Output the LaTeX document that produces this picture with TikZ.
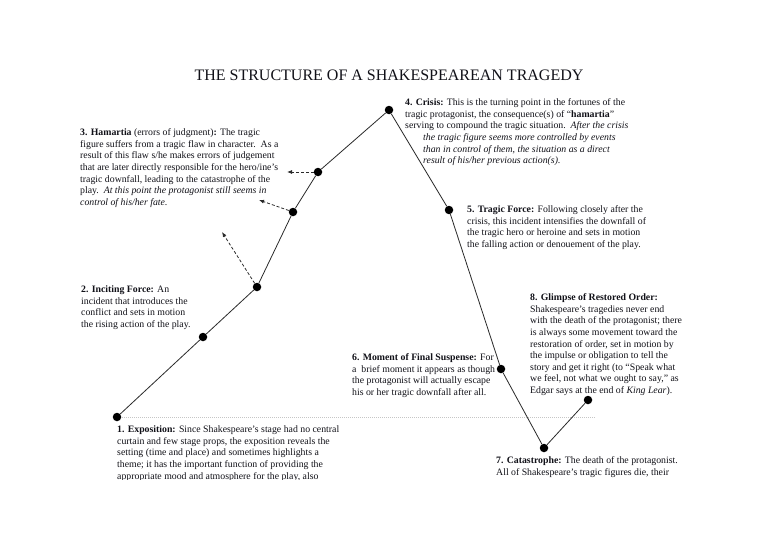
\documentclass[tikz,border=0pt]{standalone}
\usepackage{fontspec}
\setmainfont{Liberation Serif}
\usetikzlibrary{arrows.meta}
\definecolor{ink}{HTML}{111118}
\definecolor{linec}{HTML}{2A2A2A}
\begin{document}
\begin{tikzpicture}[x=1pt,y=-1pt,
  txt/.style={anchor=north west,inner sep=0pt,align=left,text=ink,font=\fontsize{9.8}{11.6}\selectfont},
  dot/.style={circle,fill=black,inner sep=0pt,minimum size=8.5pt},
  plot/.style={draw=linec,line width=0.8pt},
  hint/.style={draw=linec,line width=0.8pt,dash pattern=on 3pt off 2pt,-{Latex[length=5pt,width=4pt]}},
  guide/.style={draw=gray!45,line width=0.6pt,dash pattern=on 1pt off 1pt}]
\useasboundingbox[fill=white] (0,0) rectangle (768,543);

% title
\node[anchor=base,inner sep=0pt,text=ink,font=\fontsize{16}{19}\selectfont] (title) at (389,80.5) {THE STRUCTURE OF A SHAKESPEAREAN TRAGEDY};

% faint guide line
\coordinate (g1) at (120,417);
\coordinate (g2) at (596,417);
\draw[guide] (g1) -- (g2);

% plot points
\node[dot] (p1) at (117,417) {};
\node[dot] (p2) at (203,337) {};
\node[dot] (p3) at (257,287) {};
\node[dot] (p4) at (293,212) {};
\node[dot] (p5) at (318,172) {};
\node[dot] (p6) at (389,110) {};
\node[dot] (p7) at (449,210) {};
\node[dot] (p8) at (501,369) {};
\node[dot] (p9) at (544,448) {};
\node[dot] (p10) at (588,400) {};
\draw[plot] (p1) -- (p2) -- (p3) -- (p4) -- (p5) -- (p6) -- (p7) -- (p8) -- (p9) -- (p10);

% dashed hints
\coordinate (a1) at (287,172);
\coordinate (a2) at (259,200);
\coordinate (a3) at (222,232);
\draw[hint] (p5) -- (a1);
\draw[hint] (p4) -- (a2);
\draw[hint] (p3) -- (a3);

% texts
\node[txt] (hamartia) at (80,128.6) {\textbf{3. Hamartia} (errors of judgment)\textbf{:} The tragic\\
figure suffers from a tragic flaw in character.\ \ As a\\
result of this flaw s/he makes errors of judgement\\
that are later directly responsible for the hero/ine’s\\
tragic downfall, leading to the catastrophe of the\\
play.\ \ \textit{At this point the protagonist still seems in}\\
\textit{control of his/her fate.}};

\node[txt] (crisis) at (405,98.6) {\textbf{4. Crisis:} This is the turning point in the fortunes of the\\
tragic protagonist, the consequence(s) of “\textbf{hamartia}”\\
serving to compound the tragic situation.\ \ \textit{After the crisis}\\
\hspace*{18pt}\textit{the tragic figure seems more controlled by events}\\
\hspace*{18pt}\textit{than in control of them, the situation as a direct}\\
\hspace*{18pt}\textit{result of his/her previous action(s).}};

\node[txt] (tragic) at (467,205.6) {\textbf{5. Tragic Force:} Following closely after the\\
crisis, this incident intensifies the downfall of\\
the tragic hero or heroine and sets in motion\\
the falling action or denouement of the play.};

\node[txt] (inciting) at (81,285.6) {\textbf{2. Inciting Force:} An\\
incident that introduces the\\
conflict and sets in motion\\
the rising action of the play.};

\node[txt] (glimpse) at (530,293.6) {\textbf{8. Glimpse of Restored Order:}\\
Shakespeare’s tragedies never end\\
with the death of the protagonist; there\\
is always some movement toward the\\
restoration of order, set in motion by\\
the impulse or obligation to tell the\\
story and get it right (to “Speak what\\
we feel, not what we ought to say,” as\\
Edgar says at the end of \textit{King Lear}).};

\node[txt] (moment) at (352,353.6) {\textbf{6. Moment of Final Suspense:} For\\
a\ \ brief moment it appears as though\\
the protagonist will actually escape\\
his or her tragic downfall after all.};

\begin{scope}
\clip (0,0) rectangle (768,479.5);
\node[txt] (exposition) at (117,425.6) {\textbf{1. Exposition:} Since Shakespeare’s stage had no central\\
curtain and few stage props, the exposition reveals the\\
setting (time and place) and sometimes highlights a\\
theme; it has the important function of providing the\\
appropriate mood and atmosphere for the play, also};
\end{scope}

\node[txt] (catastrophe) at (496,456.6) {\textbf{7. Catastrophe:} The death of the protagonist.\\
All of Shakespeare’s tragic figures die, their};
\end{tikzpicture}
\end{document}
